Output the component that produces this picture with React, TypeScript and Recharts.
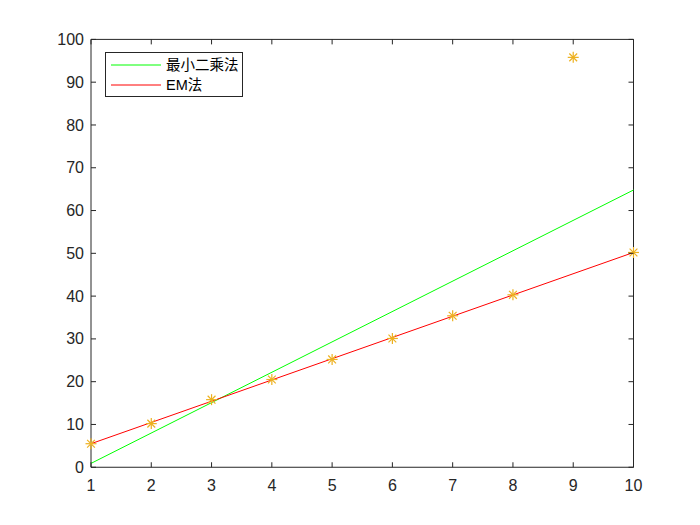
import { ComposedChart, Scatter, XAxis, YAxis } from "recharts";

const xValues = [1, 2, 3, 4, 5, 6, 7, 8, 9, 10];
const observed = [5.5, 10.2, 15.8, 20.5, 25.2, 30.1, 35.4, 40.3, 95.8, 50.2];

// fitted lines, read at both ends of the x range
const fitX = [1, 10];
const leastSquaresY = [0.9, 64.8];
const emY = [5.5, 50.2];

const xTicks = [1, 2, 3, 4, 5, 6, 7, 8, 9, 10];
const yTicks = [0, 10, 20, 30, 40, 50, 60, 70, 80, 90, 100];

const legendItems = [
  { label: "最小二乘法", color: "#00ff00" },
  { label: "EM法", color: "#ff0000" },
];

const pointData = xValues.map((x, i) => ({ x, y: observed[i] }));
const lsData = fitX.map((x, i) => ({ x, y: leastSquaresY[i] }));
const emData = fitX.map((x, i) => ({ x, y: emY[i] }));

const axisColor = "#262626";
const fontFamily = '"Liberation Sans", Arial, sans-serif';
const TICK_LEN = 5;

// ticks point inward like MATLAB's box axes; tickSize/tickMargin are 0 so x/y sit on the axis line
const BottomTick = (props: any) => {
  const { x, y, payload } = props;
  return (
    <g>
      <line x1={x} y1={y} x2={x} y2={y - TICK_LEN} stroke={axisColor} />
      <text x={x} y={y + 24} textAnchor="middle" fontFamily={fontFamily} fontSize={16} fill={axisColor}>
        {payload.value}
      </text>
    </g>
  );
};

const LeftTick = (props: any) => {
  const { x, y, payload } = props;
  return (
    <g>
      <line x1={x} y1={y} x2={x + TICK_LEN} y2={y} stroke={axisColor} />
      <text x={x - 7} y={y + 5.6} textAnchor="end" fontFamily={fontFamily} fontSize={16} fill={axisColor}>
        {payload.value}
      </text>
    </g>
  );
};

const TopTick = (props: any) => {
  const { x, y } = props;
  return <line x1={x} y1={y} x2={x} y2={y + TICK_LEN} stroke={axisColor} />;
};

const RightTick = (props: any) => {
  const { x, y } = props;
  return <line x1={x} y1={y} x2={x - TICK_LEN} y2={y} stroke={axisColor} />;
};

const Asterisk = (props: any) => {
  const { cx, cy } = props;
  const r = 5.5;
  const d = 3.9;
  const c = "#edb120";
  return (
    <g stroke={c} strokeWidth={1.2}>
      <line x1={cx - r} y1={cy} x2={cx + r} y2={cy} />
      <line x1={cx} y1={cy - r} x2={cx} y2={cy + r} />
      <line x1={cx - d} y1={cy - d} x2={cx + d} y2={cy + d} />
      <line x1={cx - d} y1={cy + d} x2={cx + d} y2={cy - d} />
    </g>
  );
};

const NoDot = () => <g />;

export default function App() {
  return (
    <div style={{ position: "absolute", left: 0, top: 0, width: 700, height: 525, background: "#fff" }}>
      <ComposedChart
        width={700}
        height={525}
        margin={{ top: 38.4, right: 65.5, bottom: 27.75, left: 51 }}
      >
        <XAxis
          xAxisId="b"
          type="number"
          dataKey="x"
          domain={[1, 10]}
          ticks={xTicks}
          height={30}
          tickSize={0}
          tickMargin={0}
          tickLine={false}
          stroke={axisColor}
          tick={BottomTick}
        />
        <XAxis
          xAxisId="t"
          orientation="top"
          type="number"
          dataKey="x"
          domain={[1, 10]}
          ticks={xTicks}
          height={1}
          tickSize={0}
          tickMargin={0}
          tickLine={false}
          tick={TopTick}
          stroke={axisColor}
        />
        <YAxis
          yAxisId="l"
          type="number"
          dataKey="y"
          domain={[0, 100]}
          ticks={yTicks}
          width={40}
          tickSize={0}
          tickMargin={0}
          tickLine={false}
          stroke={axisColor}
          tick={LeftTick}
        />
        <YAxis
          yAxisId="r"
          orientation="right"
          type="number"
          dataKey="y"
          domain={[0, 100]}
          ticks={yTicks}
          width={1}
          tickSize={0}
          tickMargin={0}
          tickLine={false}
          tick={RightTick}
          stroke={axisColor}
        />
        {/* invisible series so the top and right box axes are drawn */}
        <Scatter
          data={pointData}
          xAxisId="t"
          yAxisId="r"
          dataKey="y"
          shape={NoDot}
          isAnimationActive={false}
        />
        <Scatter
          data={lsData}
          xAxisId="b"
          yAxisId="l"
          dataKey="y"
          line={{ stroke: "#00ff00", strokeWidth: 1 }}
          shape={NoDot}
          isAnimationActive={false}
        />
        <Scatter
          data={emData}
          xAxisId="b"
          yAxisId="l"
          dataKey="y"
          line={{ stroke: "#ff0000", strokeWidth: 1 }}
          shape={NoDot}
          isAnimationActive={false}
        />
        <Scatter
          data={pointData}
          xAxisId="b"
          yAxisId="l"
          dataKey="y"
          shape={Asterisk}
          isAnimationActive={false}
        />
      </ComposedChart>
      <div
        style={{
          position: "absolute",
          left: 105,
          top: 52,
          width: 138,
          height: 45,
          border: `1px solid ${axisColor}`,
          background: "#fff",
          boxSizing: "border-box",
        }}
      >
        {legendItems.map((item, i) => (
          <div
            key={item.label}
            style={{
              position: "absolute",
              left: 5,
              top: 3 + i * 20,
              height: 18,
              display: "flex",
              alignItems: "center",
            }}
          >
            <svg width={50} height={4} style={{ display: "block" }}>
              <line x1={0} y1={2} x2={50} y2={2} stroke={item.color} strokeWidth={1} />
            </svg>
            <span
              style={{
                marginLeft: 5,
                fontFamily: '"Liberation Sans", Arial, "Noto Sans CJK SC", sans-serif',
                fontSize: 14.5,
                color: "#000",
                lineHeight: "18px",
              }}
            >
              {item.label}
            </span>
          </div>
        ))}
      </div>
    </div>
  );
}
